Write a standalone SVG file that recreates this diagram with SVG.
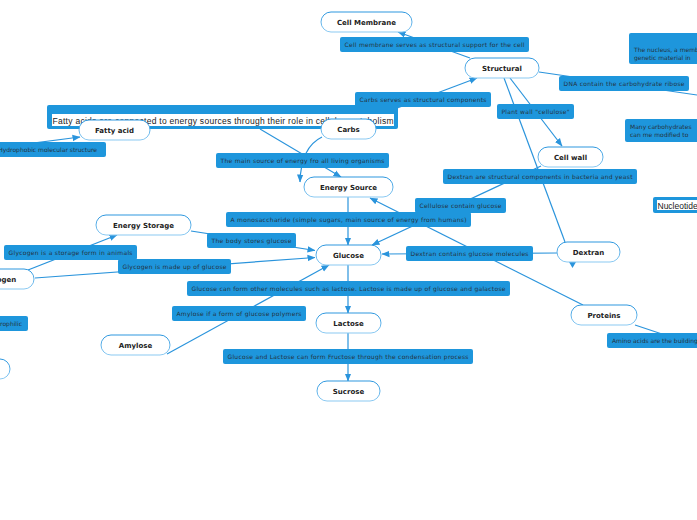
<svg xmlns="http://www.w3.org/2000/svg" width="697" height="520" viewBox="0 0 697 520">
<defs>
<linearGradient id="ns" x1="0" y1="0" x2="0" y2="1">
<stop offset="0" stop-color="#2b96de"/>
<stop offset="1" stop-color="#8ccaf2"/>
</linearGradient>
<marker id="ah" markerUnits="userSpaceOnUse" markerWidth="8" markerHeight="8" viewBox="0 0 8 8" refX="7.5" refY="4" orient="auto">
<path d="M0,0.8 L8,4 L0,7.2 Z" fill="#2a94dc"/>
</marker>
<style>
.c{fill:none;stroke:#2a94dc;stroke-width:1.2}
.n rect{fill:#fff;stroke:url(#ns);stroke-width:1}
.n text{font-family:"DejaVu Sans",Verdana,sans-serif;font-size:7px;font-weight:bold;fill:#222;text-anchor:middle}
.l rect{fill:#1e96dc}
.l text{font-family:"DejaVu Sans",Verdana,sans-serif;font-size:6px;fill:#24323e;text-anchor:middle}
.t rect.b{fill:#1e96dc}
.t rect.w{fill:#fff}
.t text{font-family:"Liberation Sans",Arial,sans-serif;font-size:8.5px;fill:#222}
</style>
</defs>
<rect width="697" height="520" fill="#fff"/>

<g id="connectors">
<line class="c" x1="470" y1="58" x2="398" y2="32" marker-end="url(#ah)"/>
<line class="c" x1="368" y1="119" x2="477" y2="78" marker-end="url(#ah)"/>
<line class="c" x1="510" y1="78" x2="562" y2="146" marker-end="url(#ah)"/>
<line class="c" x1="504" y1="78" x2="565" y2="242"/>
<path d="M569,262 L576,262 L572.5,268 Z" fill="#2a94dc"/>
<line class="c" x1="539" y1="72" x2="697" y2="95"/>
<path class="c" d="M322,137 Q301,147 300,182" marker-end="url(#ah)"/>
<line class="c" x1="260" y1="129" x2="341" y2="177" marker-end="url(#ah)"/>
<line class="c" x1="348" y1="197" x2="348" y2="245" marker-end="url(#ah)"/>
<line class="c" x1="541" y1="166" x2="372" y2="245" marker-end="url(#ah)"/>
<line class="c" x1="583" y1="305" x2="370" y2="198" marker-end="url(#ah)"/>
<line class="c" x1="557" y1="253" x2="382" y2="254" marker-end="url(#ah)"/>
<line class="c" x1="28" y1="270" x2="117" y2="235" marker-end="url(#ah)"/>
<line class="c" x1="191" y1="231" x2="315" y2="250.5" marker-end="url(#ah)"/>
<line class="c" x1="35" y1="278" x2="315" y2="257.5" marker-end="url(#ah)"/>
<line class="c" x1="-20" y1="150" x2="80" y2="137" marker-end="url(#ah)"/>
<line class="c" x1="348" y1="265" x2="348" y2="313" marker-end="url(#ah)"/>
<line class="c" x1="167" y1="354" x2="329" y2="265" marker-end="url(#ah)"/>
<line class="c" x1="348" y1="333" x2="348" y2="381" marker-end="url(#ah)"/>
<line class="c" x1="635" y1="325" x2="662" y2="334"/>
</g>

<g id="labels">
<g id="l-cellmembrane" class="l"><rect x="340" y="37" width="189" height="15" rx="2"/><text x="434.5" y="46.6" textLength="180">Cell membrane serves as structural support for the cell</text></g>
<g id="l-carbs-structural" class="l"><rect x="355" y="92" width="136" height="15" rx="2"/><text x="423" y="101.6" textLength="127">Carbs serves as structural components</text></g>
<g id="l-dna" class="l"><rect x="559" y="76" width="130" height="15" rx="2"/><text x="624" y="85.6" textLength="121">DNA contain the carbohydrate ribose</text></g>
<g id="l-plantwall" class="l"><rect x="497" y="104" width="77" height="15" rx="2"/><text x="535.5" y="113.6" textLength="68">Plant wall "cellulose"</text></g>
<g id="l-nucleus" class="l"><rect x="629" y="33" width="130" height="31" rx="2"/><text x="634" y="51.5" style="text-anchor:start">The nucleus, a membrane</text><text x="634" y="59.5" style="text-anchor:start">genetic material in</text></g>
<g id="l-many" class="l"><rect x="625" y="119" width="120" height="23" rx="2"/><text x="630" y="129" style="text-anchor:start">Many carbohydrates</text><text x="630" y="137" style="text-anchor:start">can me modified to</text></g>
<g id="l-fatty" class="t"><rect class="b" x="47" y="105" width="351" height="24" rx="2"/><rect class="w" x="52" y="114" width="342" height="12"/><text x="52.5" y="123.5" textLength="341">Fatty acids are connected to energy sources through their role in cellular metabolism</text></g>
<g id="l-hydrophobic" class="l"><rect x="-60" y="142" width="166" height="15" rx="2"/><text x="97" y="151.6" style="text-anchor:end">Hydrophobic molecular structure</text></g>
<g id="l-mainsource" class="l"><rect x="216" y="153" width="173" height="15" rx="2"/><text x="302.5" y="162.6" textLength="164">The main source of energy fro all living organisms</text></g>
<g id="l-dextran-structural" class="l"><rect x="443" y="169" width="194" height="15" rx="2"/><text x="540" y="178.6" textLength="185">Dextran are structural components in bacteria and yeast</text></g>
<g id="l-cellulose" class="l"><rect x="415" y="198" width="91" height="15" rx="2"/><text x="460.5" y="207.6" textLength="82">Cellulose contain glucose</text></g>
<g id="l-mono" class="l"><rect x="226" y="212" width="245" height="15" rx="2"/><text x="348.5" y="221.6" textLength="236">A monosaccharide (simple sugars, main source of energy from humans)</text></g>
<g id="l-bodystores" class="l"><rect x="207" y="233" width="89" height="15" rx="2"/><text x="251.5" y="242.6" textLength="80">The body stores glucose</text></g>
<g id="l-glyc-storage" class="l"><rect x="4" y="245" width="133" height="15" rx="2"/><text x="70.5" y="254.6" textLength="124">Glycogen is a storage form in animals</text></g>
<g id="l-glyc-made" class="l"><rect x="118" y="259" width="113" height="15" rx="2"/><text x="174.5" y="268.6" textLength="104">Glycogen is made up of glucose</text></g>
<g id="l-dextran-contains" class="l"><rect x="406" y="246" width="127" height="15" rx="2"/><text x="469.5" y="255.6" textLength="118">Dextran contains glucose molecules</text></g>
<g id="l-nucleotide" class="t"><rect class="b" x="653" y="197" width="80" height="16" rx="2"/><rect class="w" x="657" y="200" width="76" height="10"/><text x="657.5" y="208.5">Nucleotide</text></g>
<g id="l-glucose-form" class="l"><rect x="187" y="281" width="323" height="15" rx="2"/><text x="348.5" y="290.6" textLength="314">Glucose can form other molecules such as lactose. Lactose is made up of glucose and galactose</text></g>
<g id="l-amylose" class="l"><rect x="172" y="306" width="134" height="15" rx="2"/><text x="239" y="315.6" textLength="125">Amylose if a form of glucose polymers</text></g>
<g id="l-hydrophilic" class="l"><rect x="-60" y="316" width="88" height="15" rx="2"/><text x="22" y="325.6" style="text-anchor:end">Hydrophilic</text></g>
<g id="l-condensation" class="l"><rect x="223" y="349" width="250" height="15" rx="2"/><text x="348" y="358.6" textLength="241">Glucose and Lactose can form Fructose through the condensation process</text></g>
<g id="l-amino" class="l"><rect x="607" y="333" width="130" height="15" rx="2"/><text x="612" y="342.6" style="text-anchor:start">Amino acids are the building</text></g>
</g>

<g id="nodes">
<g id="n-cellmembrane" class="n"><rect x="321" y="12" width="91" height="20" rx="10"/><text x="366.5" y="24.5">Cell Membrane</text></g>
<g id="n-structural" class="n"><rect x="465" y="58" width="74" height="20" rx="10"/><text x="502" y="70.5">Structural</text></g>
<g id="n-fattyacid" class="n"><rect x="79" y="120" width="71" height="20" rx="10"/><text x="114.5" y="132.5">Fatty acid</text></g>
<g id="n-carbs" class="n"><rect x="321" y="119" width="55" height="20" rx="10"/><text x="348.5" y="131.5">Carbs</text></g>
<g id="n-cellwall" class="n"><rect x="538" y="147" width="65" height="20" rx="10"/><text x="570.5" y="159.5">Cell wall</text></g>
<g id="n-energysource" class="n"><rect x="304" y="177" width="89" height="20" rx="10"/><text x="348.5" y="189.5">Energy Source</text></g>
<g id="n-energystorage" class="n"><rect x="96" y="215" width="95" height="20" rx="10"/><text x="143.5" y="227.5">Energy Storage</text></g>
<g id="n-glucose" class="n"><rect x="316" y="245" width="65" height="20" rx="10"/><text x="348.5" y="257.5">Glucose</text></g>
<g id="n-dextran" class="n"><rect x="557" y="242" width="63" height="20" rx="10"/><text x="588.5" y="254.5">Dextran</text></g>
<g id="n-glycogen" class="n"><rect x="-38" y="269" width="72" height="20" rx="10"/><text x="-2" y="281.5">Glycogen</text></g>
<g id="n-proteins" class="n"><rect x="571" y="305" width="66" height="20" rx="10"/><text x="604" y="317.5">Proteins</text></g>
<g id="n-lactose" class="n"><rect x="316" y="313" width="65" height="20" rx="10"/><text x="348.5" y="325.5">Lactose</text></g>
<g id="n-amylose" class="n"><rect x="101" y="335" width="69" height="20" rx="10"/><text x="135.5" y="347.5">Amylose</text></g>
<g id="n-sucrose" class="n"><rect x="317" y="381" width="63" height="20" rx="10"/><text x="348.5" y="393.5">Sucrose</text></g>
<g id="n-offscreen" class="n"><rect x="-60" y="359" width="70" height="20" rx="10"/></g>
</g>
</svg>
